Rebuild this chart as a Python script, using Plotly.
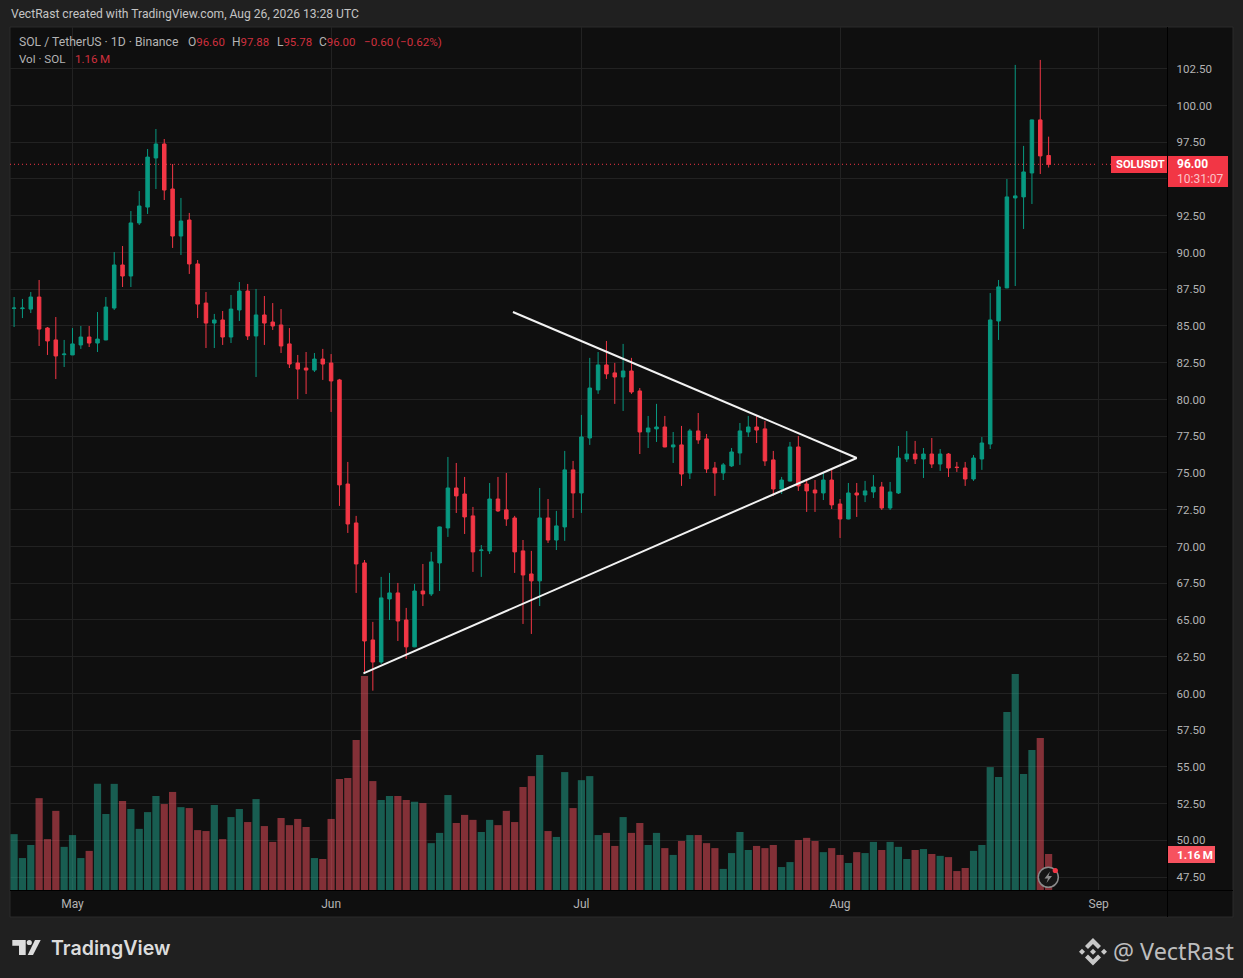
import pandas as pd
import plotly.graph_objects as go

W = 1243
H = 978

dates = pd.date_range("2026-04-24", periods=125, freq="D")

opens = [86.20, 86.18, 86.15, 86.97, 84.86, 84.05, 83.05, 83.03, 83.71, 84.25,
         83.84, 84.05, 86.22, 89.15, 88.40, 92.01, 93.09, 96.43, 97.38, 94.32,
         91.12, 92.21, 89.22, 86.56, 85.20, 85.41, 84.25, 86.09, 87.38, 84.32,
         85.75, 85.27, 85.07, 83.78, 82.48, 82.14, 82.00, 82.75, 82.48, 81.33,
         74.25, 71.60, 68.88, 63.64, 62.14, 66.43, 66.84, 65.00, 63.17, 66.97,
         66.77, 68.88, 71.26, 73.98, 73.57, 72.08, 69.72, 69.70, 73.23, 72.49,
         71.94, 69.70, 68.13, 67.66, 71.94, 70.44, 71.33, 75.21, 73.64, 77.38,
         80.65, 82.35, 81.81, 81.53, 81.94, 80.58, 77.79, 78.00, 78.13, 76.77,
         76.91, 75.00, 77.86, 77.32, 75.34, 75.00, 75.48, 76.36, 77.79, 78.13,
         78.00, 75.89, 73.91, 74.45, 76.77, 74.25, 73.84, 73.64, 74.52, 72.89,
         71.87, 73.64, 73.50, 73.71, 74.05, 72.62, 73.64, 75.95, 76.29, 75.95,
         76.29, 75.61, 76.29, 75.40, 75.34, 74.59, 75.95, 76.97, 85.34, 87.59,
         93.71, 93.78, 95.41, 99.02, 96.60]
highs = [86.97, 86.84, 87.31, 88.13, 84.93, 85.61, 84.05, 84.86, 85.00, 85.00,
         85.95, 86.97, 90.03, 90.44, 92.82, 94.18, 97.04, 98.40, 97.72, 96.02,
         93.71, 92.69, 89.49, 87.31, 85.82, 86.02, 87.11, 87.99, 87.86, 87.52,
         87.04, 86.56, 86.15, 84.86, 83.03, 83.23, 83.16, 83.44, 83.09, 81.40,
         75.75, 72.08, 69.08, 64.87, 67.93, 68.20, 67.52, 65.82, 67.45, 68.81,
         69.63, 71.35, 76.09, 75.68, 74.73, 72.69, 70.10, 74.32, 74.73, 75.00,
         72.08, 70.44, 69.70, 73.98, 73.23, 72.42, 76.50, 75.82, 78.95, 82.83,
         83.23, 83.98, 82.49, 83.78, 82.83, 80.78, 78.88, 79.70, 78.88, 77.79,
         78.20, 78.00, 79.08, 77.65, 75.75, 75.68, 76.70, 78.40, 78.88, 78.88,
         78.54, 76.50, 74.73, 77.11, 77.52, 74.59, 74.52, 75.00, 75.34, 73.23,
         74.32, 74.32, 74.46, 74.86, 74.39, 74.39, 76.84, 77.85, 77.18, 76.70,
         77.38, 76.63, 76.36, 75.75, 75.75, 76.22, 77.45, 87.24, 88.13, 95.00,
         102.76, 97.25, 99.04, 103.10, 97.88]
lows = [84.93, 85.54, 85.88, 83.64, 83.03, 81.39, 82.21, 83.03, 83.44, 83.57,
        83.23, 84.03, 86.09, 87.65, 87.65, 91.87, 92.62, 94.32, 93.57, 90.31,
        89.83, 88.54, 85.54, 83.50, 83.50, 83.71, 83.84, 85.34, 84.05, 81.53,
        83.71, 84.73, 83.16, 82.14, 80.03, 80.37, 81.87, 81.33, 79.15, 72.76,
        70.92, 66.84, 61.44, 60.19, 62.01, 65.00, 63.57, 62.35, 63.15, 65.95,
        66.63, 66.97, 70.65, 72.28, 70.85, 68.27, 67.93, 69.49, 72.35, 71.40,
        68.20, 64.73, 64.05, 65.95, 70.24, 69.76, 70.38, 71.94, 72.28, 76.91,
        80.38, 81.40, 79.70, 79.22, 80.38, 76.29, 76.70, 77.11, 76.75, 75.68,
        74.12, 74.59, 76.98, 75.00, 73.44, 74.52, 75.41, 75.55, 77.45, 77.04,
        75.48, 73.44, 73.57, 74.43, 73.78, 72.35, 72.35, 73.16, 72.55, 70.58,
        71.85, 72.01, 73.02, 73.30, 72.48, 72.48, 73.57, 75.75, 75.61, 74.66,
        75.34, 75.14, 74.73, 75.07, 74.12, 74.46, 75.21, 76.63, 84.05, 87.57,
        87.72, 91.60, 93.30, 95.34, 95.78]
closes = [86.22, 86.22, 86.97, 84.79, 83.98, 82.96, 83.09, 83.78, 84.25, 83.84,
          84.11, 86.29, 89.15, 88.40, 92.01, 93.16, 96.49, 97.38, 94.25, 91.12,
          92.14, 89.22, 86.49, 85.20, 85.41, 84.25, 86.15, 87.38, 84.32, 85.75,
          85.20, 85.00, 83.64, 82.41, 82.07, 82.00, 82.75, 82.41, 81.26, 74.19,
          71.53, 68.81, 63.57, 62.14, 66.50, 66.84, 64.93, 63.17, 66.97, 66.77,
          68.95, 71.33, 73.98, 73.44, 72.01, 69.63, 69.76, 73.23, 72.42, 71.87,
          69.63, 68.06, 67.66, 71.94, 70.44, 71.40, 75.21, 73.64, 77.45, 80.78,
          82.35, 81.74, 81.53, 81.94, 80.51, 77.79, 78.06, 78.13, 76.77, 76.91,
          74.93, 77.86, 77.25, 75.27, 75.00, 75.55, 76.43, 77.86, 78.13, 77.92,
          75.82, 73.91, 74.52, 76.77, 74.12, 73.78, 73.64, 74.52, 72.83, 71.87,
          73.64, 73.50, 73.78, 74.05, 72.62, 73.71, 76.02, 76.29, 75.95, 76.29,
          75.61, 76.29, 75.34, 75.37, 74.59, 76.02, 77.04, 85.41, 87.66, 93.78,
          93.85, 95.48, 99.02, 96.57, 96.00]
volumes = [1.80, 1.03, 1.45, 2.96, 1.64, 2.55, 1.39, 1.77, 1.03, 1.26,
           3.42, 2.45, 3.42, 2.87, 2.61, 1.97, 2.51, 3.03, 2.77, 3.16,
           2.67, 2.64, 1.93, 1.90, 2.74, 1.64, 2.35, 2.61, 2.19, 2.93,
           2.06, 1.55, 2.32, 2.09, 2.29, 2.03, 1.03, 1.00, 2.29, 3.58,
           3.61, 4.83, 6.90, 3.51, 2.90, 3.03, 3.03, 2.90, 2.84, 2.80,
           1.51, 1.84, 3.06, 2.16, 2.42, 2.26, 1.87, 2.26, 2.09, 2.55,
           2.19, 3.32, 3.67, 4.35, 1.90, 1.71, 3.80, 2.64, 3.54, 3.67,
           1.77, 1.84, 1.42, 2.35, 1.84, 2.16, 1.45, 1.84, 1.35, 1.13,
           1.58, 1.77, 1.77, 1.51, 1.35, 0.68, 1.19, 1.87, 1.29, 1.42,
           1.35, 1.45, 0.74, 0.90, 1.61, 1.68, 1.58, 1.22, 1.35, 1.13,
           0.87, 1.22, 1.19, 1.55, 1.29, 1.55, 1.39, 1.00, 1.29, 1.32,
           1.16, 1.10, 1.06, 0.61, 0.71, 1.26, 1.45, 3.96, 3.64, 5.74,
           6.96, 3.74, 4.51, 4.90, 1.16]

price_ticks = [47.5, 50, 52.5, 55, 57.5, 60, 62.5, 65, 67.5, 70, 72.5, 75, 77.5,
               80, 82.5, 85, 87.5, 90, 92.5, 95, 97.5, 100, 102.5]
# 95.00 sits under the red price tag in the picture, so it gets no text
price_labels = ["47.50", "50.00", "52.50", "55.00", "57.50", "60.00", "62.50", "65.00",
                "67.50", "70.00", "72.50", "75.00", "77.50", "80.00", "82.50", "85.00",
                "87.50", "90.00", "92.50", "", "97.50", "100.00", "102.50"]
month_ticks = ["2026-05-01", "2026-06-01", "2026-07-01", "2026-08-01", "2026-09-01"]
month_labels = ["May", "Jun", "Jul", "Aug", "Sep"]

# the triangle drawn on the chart
upper_line_x = ["2026-06-22 19:00", "2026-08-03 00:00"]
upper_line_y = [85.95, 76.02]
lower_line_x = ["2026-06-04 21:00", "2026-08-03 00:00"]
lower_line_y = [61.37, 76.02]

last_price = 96.00

GREEN = "#089981"
RED = "#F23645"
GREEN_VOL = "rgba(34,171,148,0.5)"
RED_VOL = "rgba(247,82,95,0.5)"
BG = "#202020"
PANE = "#0f0f0f"
GRID = "#222222"
TEXT = "#b4b4b4"
VALUE_RED = "#d0303e"
FONT = "Roboto"


def px(x):
    return x / W


def py(y):
    return 1 - y / H


def poly(points):
    return "M " + " L ".join(f"{px(a):.5f},{py(b):.5f}" for a, b in points) + " Z"


def solid(path, color="#dcdcdc"):
    return dict(type="path", xref="paper", yref="paper", path=path,
                fillcolor=color, line=dict(width=0), layer="above")


def circle(cx, cy, r, **kw):
    return dict(type="circle", xref="paper", yref="paper", layer="above",
                x0=px(cx - r), x1=px(cx + r), y0=py(cy + r), y1=py(cy - r), **kw)


def rect(x0, y0, x1, y1, color):
    return dict(type="rect", xref="paper", yref="paper", layer="above",
                x0=px(x0), x1=px(x1), y0=py(y1), y1=py(y0),
                fillcolor=color, line=dict(width=0))


def diamond(cx, cy, r):
    return poly([(cx, cy - r), (cx + r, cy), (cx, cy + r), (cx - r, cy)])


def label(x, y, text, color=TEXT, size=12, anchor="left", family=FONT, weight="normal"):
    return dict(xref="paper", yref="paper", x=px(x), y=py(y), text=text,
                showarrow=False, xanchor=anchor, yanchor="middle", borderpad=0,
                font=dict(family=family, size=size, color=color, weight=weight))


def ohlc_label(x, letter, value):
    return label(x, 42, f'{letter}<span style="color:{VALUE_RED};font-size:11.4px">{value}</span>')


vol_colors = [GREEN_VOL if c >= o else RED_VOL for o, c in zip(opens, closes)]

fig = go.Figure()
fig.add_trace(go.Bar(x=dates, y=volumes, marker=dict(color=vol_colors, line=dict(width=0)),
                     xaxis="x", yaxis="y", showlegend=False, hoverinfo="skip"))
fig.add_trace(go.Candlestick(x=dates, open=opens, high=highs, low=lows, close=closes,
                             xaxis="x", yaxis="y2", showlegend=False,
                             increasing=dict(line=dict(color=GREEN, width=1), fillcolor=GREEN),
                             decreasing=dict(line=dict(color=RED, width=1), fillcolor=RED)))
fig.add_trace(go.Scatter(x=upper_line_x, y=upper_line_y, mode="lines", xaxis="x", yaxis="y2",
                         line=dict(color="#f2f2f2", width=2), showlegend=False, hoverinfo="skip"))
fig.add_trace(go.Scatter(x=lower_line_x, y=lower_line_y, mode="lines", xaxis="x", yaxis="y2",
                         line=dict(color="#f2f2f2", width=2), showlegend=False, hoverinfo="skip"))

shapes = [
    dict(type="rect", xref="paper", yref="paper", layer="below", x0=px(10), x1=px(1233),
         y0=py(917), y1=py(27), fillcolor=PANE, line=dict(color="#2b2b2b", width=1)),
    dict(type="line", xref="paper", yref="y2", layer="below", x0=px(10), x1=px(1111),
         y0=last_price, y1=last_price, line=dict(color=RED, width=1, dash="1px,3px")),
    # pane separators
    dict(type="line", xref="paper", yref="paper", layer="above", x0=px(1167.5), x1=px(1167.5),
         y0=py(917), y1=py(27), line=dict(color="#000000", width=1)),
    dict(type="line", xref="paper", yref="paper", layer="above", x0=px(10), x1=px(1233),
         y0=py(890.5), y1=py(890.5), line=dict(color="#000000", width=1)),
    # price tags
    rect(1111, 156, 1167, 173, RED),
    rect(1168, 156, 1228, 187, RED),
    rect(1168, 846, 1215, 863, "#F7525F"),
    # lightning badge
    circle(1048.3, 877.3, 10, fillcolor="#161616", line=dict(color="#8a8a8a", width=1.5)),
    solid(poly([(1050, 871.5), (1044.5, 878.5), (1048, 878.5), (1046.5, 883), (1052, 876),
                (1048.5, 876)]), "#8a8a8a"),
    circle(1055.3, 870.5, 2.6, fillcolor=RED, line=dict(width=0)),
    # TradingView mark
    solid(poly([(12.3, 940), (25.7, 940), (25.7, 955), (19, 955), (19, 945.7), (12.3, 945.7)])),
    circle(29.3, 942.5, 2.6, fillcolor="#dcdcdc", line=dict(width=0)),
    solid(poly([(35, 940), (40.7, 940), (33, 955), (27.7, 955)])),
    # author badge
    solid(poly([(1093, 938), (1101, 946), (1098, 949), (1093, 944), (1088, 949), (1085, 946)]), "#c8c8c8"),
    solid(poly([(1093, 965.4), (1101, 957.4), (1098, 954.4), (1093, 959.4), (1088, 954.4), (1085, 957.4)]), "#c8c8c8"),
    solid(diamond(1082, 951.7, 3), "#c8c8c8"),
    solid(diamond(1104, 951.7, 3), "#c8c8c8"),
    solid(diamond(1093, 951.7, 3), "#c8c8c8"),
]

annotations = [
    label(10, 14, "VectRast created with TradingView.com, Aug 26, 2026 13:28 UTC", "#c4c4c4", 12.1),
    label(18, 42, "SOL / TetherUS · 1D · Binance", size=12.2),
    ohlc_label(186.5, "O", "96.60"),
    ohlc_label(231, "H", "97.88"),
    ohlc_label(276, "L", "95.78"),
    ohlc_label(318, "C", "96.00"),
    label(362.5, 42, "−0.60 (−0.62%)", VALUE_RED, 11.6),
    label(18, 59, "Vol · SOL", size=11.6),
    label(73.5, 59, "1.16\u2009M", VALUE_RED, 11.6),
    label(1115, 164.5, "SOLUSDT", "#ffffff", 11.2, weight="bold"),
    label(1176, 164.5, "96.00", "#ffffff", 12, weight="bold"),
    label(1176, 179, "10:31:07", "#fbc3c8", 12),
    label(1176, 855, "1.16\u2009M", "#ffffff", 11.6, weight="bold"),
    label(50, 948, "TradingView", "#dcdcdc", 19.6, family="Inter", weight=600),
    label(1112, 951, "@ VectRast", "#bdbdbd", 23.4, family="Noto Sans"),
]

fig.update_layout(
    width=W,
    height=H,
    autosize=False,
    margin=dict(l=0, r=0, t=0, b=0),
    paper_bgcolor=BG,
    plot_bgcolor="rgba(0,0,0,0)",
    showlegend=False,
    bargap=0.14,
    boxgap=0.4,
    shapes=shapes,
    annotations=annotations,
    font=dict(family=FONT, size=12, color=TEXT),
    xaxis=dict(
        domain=[px(10), px(1167.5)],
        type="date",
        range=["2026-04-23 12:14", "2026-09-09 06:00"],
        rangeslider=dict(visible=False),
        tickmode="array",
        tickvals=month_ticks,
        ticktext=month_labels,
        ticks="",
        ticklabelstandoff=5,
        showgrid=True,
        gridcolor=GRID,
        gridwidth=1,
        zeroline=False,
        showline=False,
        tickfont=dict(family=FONT, size=12, color=TEXT),
    ),
    yaxis=dict(
        domain=[py(890), py(27)],
        range=[0, 27.81],
        visible=False,
        showgrid=False,
        zeroline=False,
    ),
    yaxis2=dict(
        overlaying="y",
        side="right",
        anchor="x",
        range=[46.63, 105.34],
        tickmode="array",
        tickvals=price_ticks,
        ticktext=price_labels,
        ticks="",
        ticklabelstandoff=8,
        showgrid=True,
        gridcolor=GRID,
        gridwidth=1,
        zeroline=False,
        showline=False,
        tickfont=dict(family=FONT, size=11.5, color=TEXT),
    ),
)

fig.write_html("out.html", config=dict(displayModeBar=False),
               post_script="document.body.style.margin='0';document.body.style.overflow='hidden';")
